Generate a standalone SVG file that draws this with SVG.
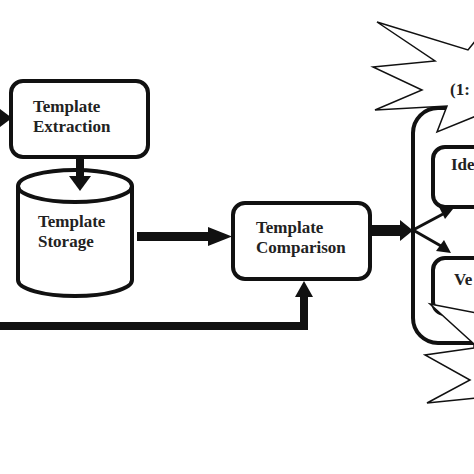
<svg xmlns="http://www.w3.org/2000/svg" width="474" height="474" viewBox="0 0 474 474">
<style>
.box{fill:#fff;stroke:#111;stroke-width:4}
.t{font-family:"Liberation Serif","Times New Roman",serif;font-weight:bold;font-size:17px;fill:#222}
.ar{fill:#111;stroke:none}
.burst{fill:#fff;stroke:#111;stroke-width:1.5;stroke-linejoin:miter}
</style>
<rect width="474" height="474" fill="#fff"/>
<g id="extraction">
<rect class="box" x="11" y="81" width="137" height="76" rx="12"/>
<text class="t" x="33" y="112">Template</text>
<text class="t" x="33" y="132">Extraction</text>
</g>
<g id="storage">
<path class="box" d="M18,186 L18,280 A57,16 0 0 0 132,280 L132,186"/>
<ellipse class="box" cx="75" cy="186" rx="57" ry="16"/>
<text class="t" x="38" y="227">Template</text>
<text class="t" x="38" y="247">Storage</text>
</g>
<g id="comparison">
<rect class="box" x="233" y="203" width="137" height="76" rx="12"/>
<text class="t" x="256" y="233">Template</text>
<text class="t" x="256" y="253">Comparison</text>
</g>
<g id="frame">
<rect class="box" x="413" y="108" width="100" height="235" rx="25"/>
</g>
<g id="identification">
<rect class="box" x="433" y="147" width="80" height="60" rx="12"/>
<text class="t" x="451" y="170">Ide</text>
</g>
<g id="verification">
<rect class="box" x="433" y="258" width="80" height="56" rx="12"/>
<text class="t" x="454" y="285">Ve</text>
</g>
<g id="connectors">
<polygon class="ar" points="0,109 12,118 0,127"/>
<rect class="ar" x="76" y="157" width="8" height="21"/>
<polygon class="ar" points="69,176 91,176 80,191"/>
<rect class="ar" x="137" y="232" width="72" height="9"/>
<polygon class="ar" points="208,227 232,236.5 208,246"/>
<polyline points="0,326 304,326 304,296" fill="none" stroke="#111" stroke-width="8"/>
<polygon class="ar" points="295,297 313,297 304,281"/>
<rect class="ar" x="370" y="225" width="33" height="11"/>
<polygon class="ar" points="400,220 413,230.5 400,241"/>
<line x1="413" y1="230" x2="443" y2="214" stroke="#111" stroke-width="3"/>
<polygon class="ar" points="439,207 453,209 445,219"/>
<line x1="413" y1="230" x2="441" y2="246" stroke="#111" stroke-width="3"/>
<polygon class="ar" points="444,240 451,253 436,251"/>
</g>
<g id="burst-top">
<polygon class="burst" points="476,40 468,50 377,22 435,61 373,67 422,90 375,110 447,106 437,132 476,116"/>
<text class="t" x="450" y="95">(1:</text>
</g>
<g id="burst-bottom">
<polygon class="burst" points="476,313 430,304 474,344 474,348 425,355 470,380 427,403 476,398"/>
</g>
</svg>
